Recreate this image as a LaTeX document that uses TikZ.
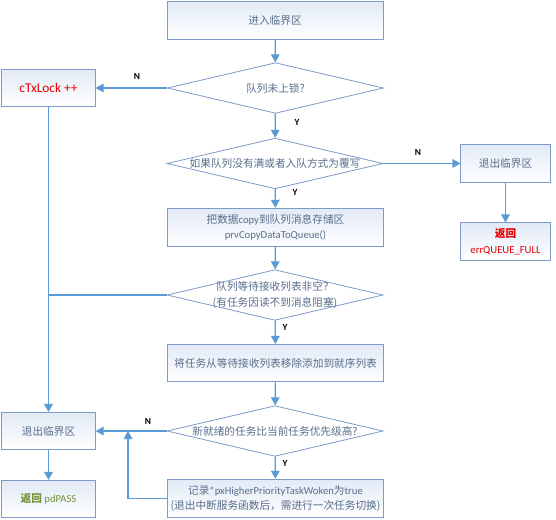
\documentclass[tikz,border=0pt]{standalone}
\usepackage{fontspec}
\usepackage{tikz}
\setmainfont{Carlito}
\newfontfamily\cjk{Noto Sans CJK SC}
\usetikzlibrary{shapes.geometric,arrows.meta}

\definecolor{boxline}{RGB}{125,155,200}
\definecolor{flowline}{RGB}{91,155,213}
\definecolor{boxtext}{RGB}{89,110,140}
\definecolor{boxtop}{RGB}{226,234,246}
\definecolor{retred}{RGB}{230,0,0}
\definecolor{retgreen}{RGB}{119,147,60}
\newcommand\zh[1]{{\cjk #1}}

\tikzset{
  proc/.style={draw=boxline, line width=0.6pt, top color=boxtop, bottom color=white,
    text=boxtext, align=center, minimum width=162pt, minimum height=28pt,
    inner sep=1pt, font=\fontsize{8}{11.5}\selectfont},
  sproc/.style={proc, minimum width=70pt},
  dec/.style={diamond, draw=boxline, line width=0.6pt, fill=white, aspect=4.2,
    minimum width=162pt, minimum height=38pt, inner sep=0pt},
  dectext/.style={text=boxtext, align=center, inner sep=0pt,
    font=\fontsize{8}{11.5}\selectfont},
  flow/.style={draw=flowline, line width=0.9pt},
  arr/.style={flow, -{Triangle[width=6.5pt,length=6pt]}},
  yn/.style={font=\fontsize{7}{8}\selectfont\bfseries, text=black, inner sep=0pt}
}

\begin{document}
\begin{tikzpicture}[x=0.75pt,y=-0.75pt]
    \useasboundingbox (0,0) rectangle (556,519);

    \node[proc] (enter) at (275,20.5) {\zh{进入临界区}};
    \node[dec, label={[dectext]center:{\zh{队列未上锁?}}}] (unlocked) at (275.5,88) {};
    \node[sproc, text=retred, font=\fontsize{10}{12}\selectfont] (lock) at (48.5,88) {cTxLock ++};
    \node[dec, label={[dectext]center:{\zh{如果队列没有满或者入队方式为覆写}}}] (notfull) at (275,163.5) {};
    \node[sproc, minimum width=67pt] (exitfull) at (505.5,163.5) {\zh{退出临界区}};
    \node[sproc, minimum width=67pt, text=retred] (errfull) at (505.5,241.5) {\zh{\bfseries 返回}\\errQUEUE\_FULL};
    \node[proc, minimum height=29pt] (copy) at (275.5,227.5) {\zh{把数据}copy\zh{到队列消息存储区}\\prvCopyDataToQueue()};
    \node[dec, label={[dectext]center:{\zh{队列等待接收列表非空？}\\\zh{(有任务因读不到消息阻塞)}}}] (waiting) at (275,295) {};
    \node[proc] (move) at (275.5,363) {\zh{将任务从等待接收列表移除添加到就序列表}};
    \node[dec, label={[dectext]center:{\zh{新就绪的任务比当前任务优先级高?}}}] (higher) at (275,431) {};
    \node[proc, minimum height=29pt] (record) at (275.5,498.5) {\zh{记录}*pxHigherPriorityTaskWoken\zh{为}true\\\zh{(退出中断服务函数后，需进行一次任务切换)}};
    \node[sproc] (exitok) at (48.5,431) {\zh{退出临界区}};
    \node[sproc, text=retgreen] (pass) at (48.5,499) {\zh{\bfseries 返回} pdPASS};
    \coordinate (back) at (128,431);

    \draw[arr] (enter) -- (unlocked);
    \draw[arr] (unlocked) -- (lock);
    \draw[arr] (unlocked) -- (notfull);
    \draw[arr] (notfull) -- (exitfull);
    \draw[arr] (exitfull) -- (errfull);
    \draw[arr] (notfull) -- (copy);
    \draw[arr] (copy) -- (waiting);
    \draw[arr] (waiting) -- (move);
    \draw[arr] (move) -- (higher);
    \draw[arr] (higher) -- (record);
    \draw[arr] (higher) -- (exitok);
    \draw[arr] (record.west) -| (back);
    \draw[arr] (lock) -- (exitok);
    \draw[flow] (waiting.west) -- (waiting.west -| lock.south);
    \draw[arr] (exitok) -- (pass);

    \node[yn] (n1) at (137,76) {N};
    \node[yn] (y1) at (297,122) {Y};
    \node[yn] (n2) at (418,152) {N};
    \node[yn] (y2) at (295,192) {Y};
    \node[yn] (y3) at (285,327) {Y};
    \node[yn] (n3) at (148,421) {N};
    \node[yn] (y4) at (285,463) {Y};

\end{tikzpicture}
\end{document}
